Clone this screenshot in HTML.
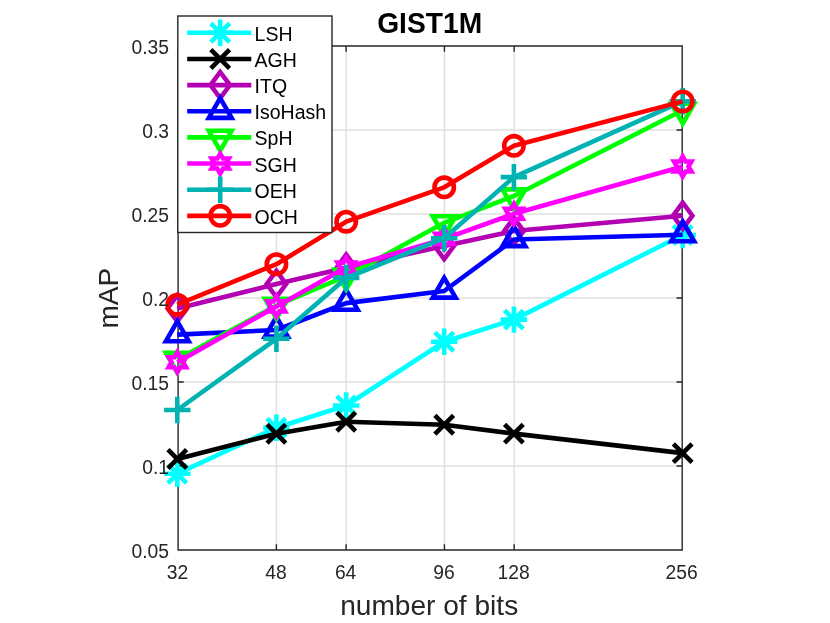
<!DOCTYPE html>
<html><head><meta charset="utf-8"><title>GIST1M</title>
<style>
html,body{margin:0;padding:0;background:#fff;}
body{width:830px;height:623px;overflow:hidden;}
svg{display:block;}
text{font-family:"Liberation Sans",Arial,Helvetica,sans-serif;}
</style></head><body>
<svg width="830" height="623" viewBox="0 0 830 623">
<rect x="0" y="0" width="830" height="623" fill="#ffffff"/>
<path d="M276.39 46V550M346.13 46V550M444.43 46V550M514.17 46V550M178.1 466H682.2M178.1 382H682.2M178.1 298H682.2M178.1 214H682.2M178.1 130H682.2" stroke="#dfdfdf" stroke-width="1.4" fill="none"/>
<path d="M178.1 46H682.2V550H178.1ZM276.39 550v-5.0M276.39 46v5.0M346.13 550v-5.0M346.13 46v5.0M444.43 550v-5.0M444.43 46v5.0M514.17 550v-5.0M514.17 46v5.0M178.1 466h5.0M682.2 466h-5.0M178.1 382h5.0M682.2 382h-5.0M178.1 298h5.0M682.2 298h-5.0M178.1 214h5.0M682.2 214h-5.0M178.1 130h5.0M682.2 130h-5.0" stroke="#262626" stroke-width="1.4" fill="none" stroke-linecap="square"/>
<polyline points="177.3,473.7 276.4,427.7 346.2,405.5 444.2,341.8 513.9,319.6 682.7,235" stroke="#00ffff" stroke-width="4.6" fill="none" stroke-linejoin="round"/>
<path d="M164.1 473.7H190.5M177.3 460.5V486.9M167.97 464.37L186.63 483.03M167.97 483.03L186.63 464.37" stroke="#00ffff" stroke-width="4.6" fill="none"/>
<path d="M263.2 427.7H289.6M276.4 414.5V440.9M267.07 418.37L285.73 437.03M267.07 437.03L285.73 418.37" stroke="#00ffff" stroke-width="4.6" fill="none"/>
<path d="M333 405.5H359.4M346.2 392.3V418.7M336.87 396.17L355.53 414.83M336.87 414.83L355.53 396.17" stroke="#00ffff" stroke-width="4.6" fill="none"/>
<path d="M431 341.8H457.4M444.2 328.6V355M434.87 332.47L453.53 351.13M434.87 351.13L453.53 332.47" stroke="#00ffff" stroke-width="4.6" fill="none"/>
<path d="M500.7 319.6H527.1M513.9 306.4V332.8M504.57 310.27L523.23 328.93M504.57 328.93L523.23 310.27" stroke="#00ffff" stroke-width="4.6" fill="none"/>
<path d="M669.5 235H695.9M682.7 221.8V248.2M673.37 225.67L692.03 244.33M673.37 244.33L692.03 225.67" stroke="#00ffff" stroke-width="4.6" fill="none"/>
<polyline points="177.3,459 276.4,433.7 346.2,421.8 444.2,424.8 513.9,433.6 682.7,453.1" stroke="#000000" stroke-width="4.6" fill="none" stroke-linejoin="round"/>
<path d="M167.97 449.67L186.63 468.33M167.97 468.33L186.63 449.67" stroke="#000000" stroke-width="4.6" fill="none"/>
<path d="M267.07 424.37L285.73 443.03M267.07 443.03L285.73 424.37" stroke="#000000" stroke-width="4.6" fill="none"/>
<path d="M336.87 412.47L355.53 431.13M336.87 431.13L355.53 412.47" stroke="#000000" stroke-width="4.6" fill="none"/>
<path d="M434.87 415.47L453.53 434.13M434.87 434.13L453.53 415.47" stroke="#000000" stroke-width="4.6" fill="none"/>
<path d="M504.57 424.27L523.23 442.93M504.57 442.93L523.23 424.27" stroke="#000000" stroke-width="4.6" fill="none"/>
<path d="M673.37 443.77L692.03 462.43M673.37 462.43L692.03 443.77" stroke="#000000" stroke-width="4.6" fill="none"/>
<polyline points="177.3,308.4 276.4,284 346.2,267.7 444.2,246 513.9,231 682.7,215.7" stroke="#b300b3" stroke-width="4.6" fill="none" stroke-linejoin="round"/>
<polygon points="177.3,295.3 187,308.4 177.3,321.5 167.6,308.4" stroke="#b300b3" stroke-width="4.6" fill="none" stroke-linejoin="miter"/>
<polygon points="276.4,270.9 286.1,284 276.4,297.1 266.7,284" stroke="#b300b3" stroke-width="4.6" fill="none" stroke-linejoin="miter"/>
<polygon points="346.2,254.6 355.9,267.7 346.2,280.8 336.5,267.7" stroke="#b300b3" stroke-width="4.6" fill="none" stroke-linejoin="miter"/>
<polygon points="444.2,232.9 453.9,246 444.2,259.1 434.5,246" stroke="#b300b3" stroke-width="4.6" fill="none" stroke-linejoin="miter"/>
<polygon points="513.9,217.9 523.6,231 513.9,244.1 504.2,231" stroke="#b300b3" stroke-width="4.6" fill="none" stroke-linejoin="miter"/>
<polygon points="682.7,202.6 692.4,215.7 682.7,228.8 673,215.7" stroke="#b300b3" stroke-width="4.6" fill="none" stroke-linejoin="miter"/>
<polyline points="177.3,334.6 276.4,330 346.2,303.1 444.2,291 513.9,239.5 682.7,234.7" stroke="#0000ff" stroke-width="4.6" fill="none" stroke-linejoin="round"/>
<polygon points="177.3,321.4 188.73,341.2 165.87,341.2" stroke="#0000ff" stroke-width="4.6" fill="none" stroke-linejoin="miter"/>
<polygon points="276.4,316.8 287.83,336.6 264.97,336.6" stroke="#0000ff" stroke-width="4.6" fill="none" stroke-linejoin="miter"/>
<polygon points="346.2,289.9 357.63,309.7 334.77,309.7" stroke="#0000ff" stroke-width="4.6" fill="none" stroke-linejoin="miter"/>
<polygon points="444.2,277.8 455.63,297.6 432.77,297.6" stroke="#0000ff" stroke-width="4.6" fill="none" stroke-linejoin="miter"/>
<polygon points="513.9,226.3 525.33,246.1 502.47,246.1" stroke="#0000ff" stroke-width="4.6" fill="none" stroke-linejoin="miter"/>
<polygon points="682.7,221.5 694.13,241.3 671.27,241.3" stroke="#0000ff" stroke-width="4.6" fill="none" stroke-linejoin="miter"/>
<polyline points="177.3,359.4 276.4,305.5 346.2,276.2 444.2,222.8 513.9,196 682.7,110.3" stroke="#00ff00" stroke-width="4.6" fill="none" stroke-linejoin="round"/>
<polygon points="177.3,372.6 188.73,352.8 165.87,352.8" stroke="#00ff00" stroke-width="4.6" fill="none" stroke-linejoin="miter"/>
<polygon points="276.4,318.7 287.83,298.9 264.97,298.9" stroke="#00ff00" stroke-width="4.6" fill="none" stroke-linejoin="miter"/>
<polygon points="346.2,289.4 357.63,269.6 334.77,269.6" stroke="#00ff00" stroke-width="4.6" fill="none" stroke-linejoin="miter"/>
<polygon points="444.2,236 455.63,216.2 432.77,216.2" stroke="#00ff00" stroke-width="4.6" fill="none" stroke-linejoin="miter"/>
<polygon points="513.9,209.2 525.33,189.4 502.47,189.4" stroke="#00ff00" stroke-width="4.6" fill="none" stroke-linejoin="miter"/>
<polygon points="682.7,123.5 694.13,103.7 671.27,103.7" stroke="#00ff00" stroke-width="4.6" fill="none" stroke-linejoin="miter"/>
<polyline points="177.3,362.2 276.4,306.4 346.2,267.6 444.2,238.9 513.9,213.8 682.7,166.5" stroke="#ff00ff" stroke-width="4.6" fill="none" stroke-linejoin="round"/>
<polygon points="177.3,352.2 180.19,357.2 185.96,357.2 183.07,362.2 185.96,367.2 180.19,367.2 177.3,372.2 174.41,367.2 168.64,367.2 171.53,362.2 168.64,357.2 174.41,357.2" stroke="#ff00ff" stroke-width="4.6" fill="none" stroke-linejoin="miter"/>
<polygon points="276.4,296.4 279.29,301.4 285.06,301.4 282.17,306.4 285.06,311.4 279.29,311.4 276.4,316.4 273.51,311.4 267.74,311.4 270.63,306.4 267.74,301.4 273.51,301.4" stroke="#ff00ff" stroke-width="4.6" fill="none" stroke-linejoin="miter"/>
<polygon points="346.2,257.6 349.09,262.6 354.86,262.6 351.97,267.6 354.86,272.6 349.09,272.6 346.2,277.6 343.31,272.6 337.54,272.6 340.43,267.6 337.54,262.6 343.31,262.6" stroke="#ff00ff" stroke-width="4.6" fill="none" stroke-linejoin="miter"/>
<polygon points="444.2,228.9 447.09,233.9 452.86,233.9 449.97,238.9 452.86,243.9 447.09,243.9 444.2,248.9 441.31,243.9 435.54,243.9 438.43,238.9 435.54,233.9 441.31,233.9" stroke="#ff00ff" stroke-width="4.6" fill="none" stroke-linejoin="miter"/>
<polygon points="513.9,203.8 516.79,208.8 522.56,208.8 519.67,213.8 522.56,218.8 516.79,218.8 513.9,223.8 511.01,218.8 505.24,218.8 508.13,213.8 505.24,208.8 511.01,208.8" stroke="#ff00ff" stroke-width="4.6" fill="none" stroke-linejoin="miter"/>
<polygon points="682.7,156.5 685.59,161.5 691.36,161.5 688.47,166.5 691.36,171.5 685.59,171.5 682.7,176.5 679.81,171.5 674.04,171.5 676.93,166.5 674.04,161.5 679.81,161.5" stroke="#ff00ff" stroke-width="4.6" fill="none" stroke-linejoin="miter"/>
<polyline points="177.3,410 276.4,338.8 346.2,278 444.2,238.2 513.9,177.1 682.7,101.2" stroke="#00b3b3" stroke-width="4.6" fill="none" stroke-linejoin="round"/>
<path d="M164.1 410H190.5M177.3 396.8V423.2" stroke="#00b3b3" stroke-width="4.6" fill="none"/>
<path d="M263.2 338.8H289.6M276.4 325.6V352" stroke="#00b3b3" stroke-width="4.6" fill="none"/>
<path d="M333 278H359.4M346.2 264.8V291.2" stroke="#00b3b3" stroke-width="4.6" fill="none"/>
<path d="M431 238.2H457.4M444.2 225V251.4" stroke="#00b3b3" stroke-width="4.6" fill="none"/>
<path d="M500.7 177.1H527.1M513.9 163.9V190.3" stroke="#00b3b3" stroke-width="4.6" fill="none"/>
<path d="M669.5 101.2H695.9M682.7 88V114.4" stroke="#00b3b3" stroke-width="4.6" fill="none"/>
<polyline points="177.3,304.7 276.4,264.2 346.2,221.7 444.2,187.3 513.9,145.8 682.7,101.4" stroke="#ff0000" stroke-width="4.6" fill="none" stroke-linejoin="round"/>
<circle cx="177.3" cy="304.7" r="9.7" stroke="#ff0000" stroke-width="4.6" fill="none"/>
<circle cx="276.4" cy="264.2" r="9.7" stroke="#ff0000" stroke-width="4.6" fill="none"/>
<circle cx="346.2" cy="221.7" r="9.7" stroke="#ff0000" stroke-width="4.6" fill="none"/>
<circle cx="444.2" cy="187.3" r="9.7" stroke="#ff0000" stroke-width="4.6" fill="none"/>
<circle cx="513.9" cy="145.8" r="9.7" stroke="#ff0000" stroke-width="4.6" fill="none"/>
<circle cx="682.7" cy="101.4" r="9.7" stroke="#ff0000" stroke-width="4.6" fill="none"/>
<text x="169" y="558.2" font-size="19.3" fill="#262626" text-anchor="end">0.05</text>
<text x="169" y="474.2" font-size="19.3" fill="#262626" text-anchor="end">0.1</text>
<text x="169" y="390.2" font-size="19.3" fill="#262626" text-anchor="end">0.15</text>
<text x="169" y="306.2" font-size="19.3" fill="#262626" text-anchor="end">0.2</text>
<text x="169" y="222.2" font-size="19.3" fill="#262626" text-anchor="end">0.25</text>
<text x="169" y="138.2" font-size="19.3" fill="#262626" text-anchor="end">0.3</text>
<text x="169" y="54.2" font-size="19.3" fill="#262626" text-anchor="end">0.35</text>
<text x="177.6" y="579" font-size="19.3" fill="#262626" text-anchor="middle">32</text>
<text x="275.89" y="579" font-size="19.3" fill="#262626" text-anchor="middle">48</text>
<text x="345.63" y="579" font-size="19.3" fill="#262626" text-anchor="middle">64</text>
<text x="443.93" y="579" font-size="19.3" fill="#262626" text-anchor="middle">96</text>
<text x="513.67" y="579" font-size="19.3" fill="#262626" text-anchor="middle">128</text>
<text x="681.7" y="579" font-size="19.3" fill="#262626" text-anchor="middle">256</text>
<text x="429.2" y="614.8" font-size="28.1" fill="#262626" text-anchor="middle">number of bits</text>
<text transform="translate(118.1 298.1) rotate(-90)" x="0" y="0" font-size="28.1" fill="#262626" text-anchor="middle">mAP</text>
<text transform="translate(429.65 33) scale(0.928 1)" x="0" y="0" font-size="30.4" font-weight="bold" fill="#000" text-anchor="middle">GIST1M</text>
<rect x="177.8" y="16.0" width="154.2" height="216.5" fill="#fff" stroke="#262626" stroke-width="1.4"/>
<path d="M187.2 32.8H251.3" stroke="#00ffff" stroke-width="4.6" fill="none"/>
<path d="M207 32.8H233.4M220.2 19.6V46M210.87 23.47L229.53 42.13M210.87 42.13L229.53 23.47" stroke="#00ffff" stroke-width="4.6" fill="none"/>
<text x="254.6" y="40.8" font-size="19.5" fill="#000">LSH</text>
<path d="M187.2 58.95H251.3" stroke="#000000" stroke-width="4.6" fill="none"/>
<path d="M210.87 49.62L229.53 68.28M210.87 68.28L229.53 49.62" stroke="#000000" stroke-width="4.6" fill="none"/>
<text x="254.6" y="66.95" font-size="19.5" fill="#000">AGH</text>
<path d="M187.2 85.1H251.3" stroke="#b300b3" stroke-width="4.6" fill="none"/>
<polygon points="220.2,72 229.9,85.1 220.2,98.2 210.5,85.1" stroke="#b300b3" stroke-width="4.6" fill="none" stroke-linejoin="miter"/>
<text x="254.6" y="93.1" font-size="19.5" fill="#000">ITQ</text>
<path d="M187.2 111.25H251.3" stroke="#0000ff" stroke-width="4.6" fill="none"/>
<polygon points="220.2,98.05 231.63,117.85 208.77,117.85" stroke="#0000ff" stroke-width="4.6" fill="none" stroke-linejoin="miter"/>
<text x="254.6" y="119.25" font-size="19.5" fill="#000">IsoHash</text>
<path d="M187.2 137.4H251.3" stroke="#00ff00" stroke-width="4.6" fill="none"/>
<polygon points="220.2,150.6 231.63,130.8 208.77,130.8" stroke="#00ff00" stroke-width="4.6" fill="none" stroke-linejoin="miter"/>
<text x="254.6" y="145.4" font-size="19.5" fill="#000">SpH</text>
<path d="M187.2 163.55H251.3" stroke="#ff00ff" stroke-width="4.6" fill="none"/>
<polygon points="220.2,153.55 223.09,158.55 228.86,158.55 225.97,163.55 228.86,168.55 223.09,168.55 220.2,173.55 217.31,168.55 211.54,168.55 214.43,163.55 211.54,158.55 217.31,158.55" stroke="#ff00ff" stroke-width="4.6" fill="none" stroke-linejoin="miter"/>
<text x="254.6" y="171.55" font-size="19.5" fill="#000">SGH</text>
<path d="M187.2 189.7H251.3" stroke="#00b3b3" stroke-width="4.6" fill="none"/>
<path d="M207 189.7H233.4M220.2 176.5V202.9" stroke="#00b3b3" stroke-width="4.6" fill="none"/>
<text x="254.6" y="197.7" font-size="19.5" fill="#000">OEH</text>
<path d="M187.2 215.85H251.3" stroke="#ff0000" stroke-width="4.6" fill="none"/>
<circle cx="220.2" cy="215.85" r="9.7" stroke="#ff0000" stroke-width="4.6" fill="none"/>
<text x="254.6" y="223.85" font-size="19.5" fill="#000">OCH</text>
</svg>
</body></html>
